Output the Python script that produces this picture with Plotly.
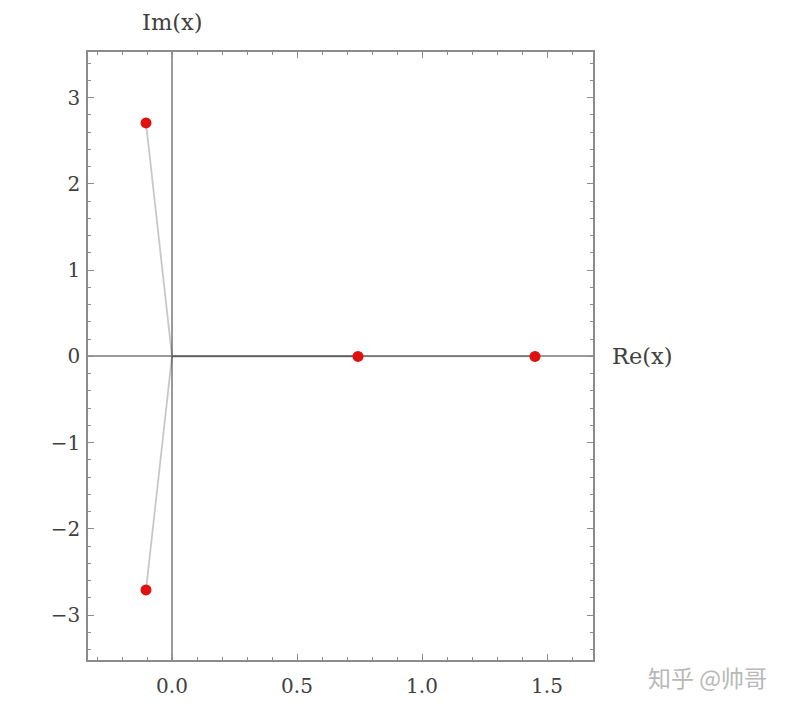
"""Roots in the complex plane, drawn like a ComplexListPlot with joining lines to the origin."""

import plotly.graph_objects as go

# roots
root_re = [-0.104, -0.104, 0.744, 1.452]
root_im = [2.708, -2.708, 0.0, 0.0]

x_ticks = [0.0, 0.5, 1.0, 1.5]
x_labels = ["0.0", "0.5", "1.0", "1.5"]
y_ticks = [-3, -2, -1, 0, 1, 2, 3]

font_serif = "DejaVu Serif"
frame_color = "#8c8c8c"

# page body adds an 8px margin, so the plot box is placed relative to that
left, top = 80, 44
plot_w, plot_h = 505, 608

fig = go.Figure()

# lines from the origin to each root (translucent, so they darken the axis where they overlap)
for re, im in zip(root_re, root_im):
    fig.add_trace(
        go.Scatter(
            x=[0, re],
            y=[0, im],
            mode="lines",
            line=dict(color="rgba(0,0,0,0.22)", width=1.8),
            hoverinfo="skip",
            showlegend=False,
        )
    )

fig.add_trace(
    go.Scatter(
        x=root_re,
        y=root_im,
        mode="markers",
        marker=dict(color="#e01010", size=11),
        showlegend=False,
    )
)

axis_common = dict(
    showgrid=False,
    showline=True,
    linecolor=frame_color,
    linewidth=1.5,
    mirror="ticks",
    ticks="inside",
    tickcolor=frame_color,
    ticklen=6,
    tickwidth=1.2,
    zeroline=True,
    zerolinecolor="#9a9a9a",
    zerolinewidth=1.5,
    tickfont=dict(family=font_serif, size=20, color="#404040"),
)

fig.update_xaxes(
    range=[-0.336, 1.684],
    tickvals=x_ticks,
    ticktext=x_labels,
    minor=dict(ticks="inside", dtick=0.1, tick0=0, ticklen=3, tickcolor=frame_color),
    ticklabelstandoff=7,
    **axis_common,
)
fig.update_yaxes(
    range=[-3.52, 3.53],
    tickvals=y_ticks,
    minor=dict(ticks="inside", dtick=0.2, tick0=0, ticklen=3, tickcolor=frame_color),
    ticklabelstandoff=2,
    **axis_common,
)

# axis labels and watermark
fig.add_annotation(
    x=0, y=1, xref="x", yref="paper", yshift=30, yanchor="middle", text="Im(x)", showarrow=False,
    font=dict(family=font_serif, size=22.5, color="#404040"),
)
fig.add_annotation(
    x=1, y=0, xref="paper", yref="y", xshift=17, xanchor="left", text="Re(x)", showarrow=False,
    font=dict(family=font_serif, size=22.5, color="#404040"),
)
fig.add_annotation(
    x=(707 - 8 - left) / plot_w,
    y=(top + plot_h - (677 - 8)) / plot_h,
    xref="paper", yref="paper", xanchor="center", yanchor="middle",
    text="知乎 @帅哥", showarrow=False,
    font=dict(family="Noto Sans CJK SC", size=23, color="#b8b8b8"),
)

fig.update_layout(
    width=788,
    height=710,
    margin=dict(l=left, r=788 - left - plot_w, t=top, b=710 - top - plot_h),
    plot_bgcolor="white",
    paper_bgcolor="white",
)

fig.write_html("out.html")
